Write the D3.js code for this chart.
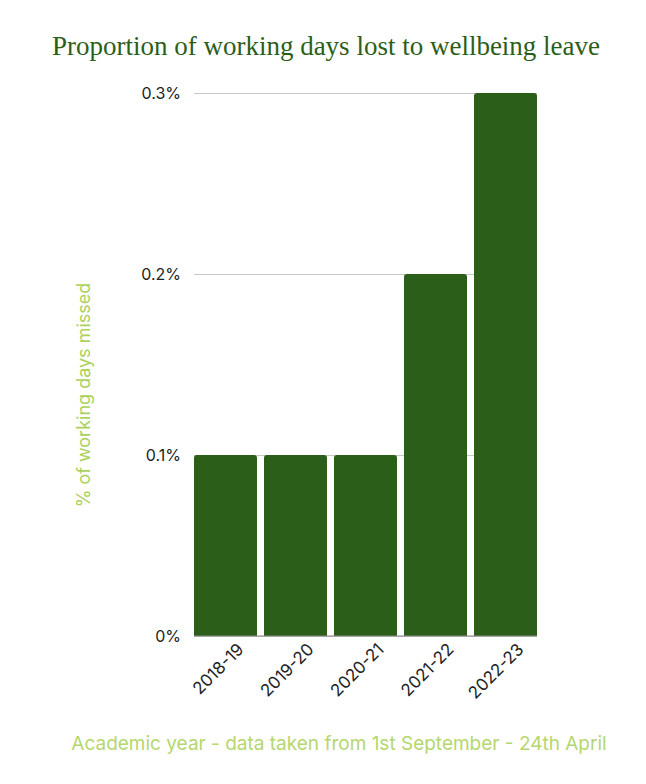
<!DOCTYPE html>
<html>
<head>
<meta charset="utf-8">
<script src="https://cdn.jsdelivr.net/npm/d3@7"></script>
<style>
  body { margin: 0; background: #fff; }
  .tick text { font-family: Inter, sans-serif; font-size: 16px; fill: #222; }
  .xaxis .tick text { font-size: 17px; }
</style>
</head>
<body>
<div id="chart"></div>
<script>
var years = ["2018-19", "2019-20", "2020-21", "2021-22", "2022-23"];
var values = [0.1, 0.1, 0.1, 0.2, 0.3];
var yTicks = [0, 0.1, 0.2, 0.3];

var W = 646, H = 784;
var margin = {top: 93, right: 109, bottom: 148, left: 194};
var width = W - margin.left - margin.right,
    height = H - margin.top - margin.bottom;

var svg = d3.select("#chart").append("svg")
    .attr("width", W)
    .attr("height", H);

svg.append("text")
    .attr("x", 326)
    .attr("y", 55)
    .attr("text-anchor", "middle")
    .style("font-family", "'Liberation Serif', serif")
    .style("font-size", "27px")
    .style("fill", "#2b5e19")
    .text("Proportion of working days lost to wellbeing leave");

var g = svg.append("g")
    .attr("transform", "translate(" + margin.left + "," + margin.top + ")");

var x = d3.scaleBand()
    .domain(years)
    .range([0, width])
    .paddingInner(0.1)
    .paddingOuter(0);

var y = d3.scaleLinear()
    .domain([0, 0.3])
    .range([height, 0]);

// gridlines
g.append("g")
    .call(d3.axisLeft(y).tickValues(yTicks).tickSize(-width).tickFormat(""))
    .call(function(s) {
        s.select(".domain").remove();
        s.selectAll("line").attr("stroke", "#c8c8c8").attr("stroke-width", 1);
    });

// y labels
g.append("g")
    .call(d3.axisLeft(y).tickValues(yTicks).tickSize(0).tickPadding(13)
        .tickFormat(function(d) { return d === 0 ? "0%" : d3.format(".1f")(d) + "%"; }))
    .select(".domain").remove();

// bars with rounded tops
var r = 3;
g.selectAll(".bar")
    .data(values)
    .enter()
    .append("path")
    .attr("class", "bar")
    .attr("fill", "#2b5e19")
    .attr("d", function(d, i) {
        var x0 = x(years[i]), w = x.bandwidth(), y0 = y(d), y1 = y(0);
        return "M" + x0 + "," + y1 +
            "V" + (y0 + r) +
            "Q" + x0 + "," + y0 + " " + (x0 + r) + "," + y0 +
            "H" + (x0 + w - r) +
            "Q" + (x0 + w) + "," + y0 + " " + (x0 + w) + "," + (y0 + r) +
            "V" + y1 + "Z";
    });

// baseline
g.append("line")
    .attr("x1", 0).attr("x2", width)
    .attr("y1", height).attr("y2", height)
    .attr("stroke", "#888").attr("stroke-width", 1);

// x labels
g.append("g")
    .attr("class", "xaxis")
    .attr("transform", "translate(0," + height + ")")
    .call(d3.axisBottom(x).tickSize(0).tickPadding(12))
    .call(function(s) {
        s.select(".domain").remove();
        s.selectAll("text")
            .style("text-anchor", "end")
            .attr("dx", "0.2em")
            .attr("dy", "0.7em")
            .attr("transform", "rotate(-45)");
    });

svg.append("text")
    .attr("transform", "translate(90,395) rotate(-90)")
    .attr("text-anchor", "middle")
    .style("font-family", "Inter, sans-serif")
    .style("font-size", "18px")
    .style("fill", "#acd15d")
    .text("% of working days missed");

svg.append("text")
    .attr("x", 339)
    .attr("y", 750)
    .attr("text-anchor", "middle")
    .style("font-family", "Inter, sans-serif")
    .style("font-size", "19px")
    .style("fill", "#b6d66e")
    .text("Academic year - data taken from 1st September - 24th April");
</script>
</body>
</html>
